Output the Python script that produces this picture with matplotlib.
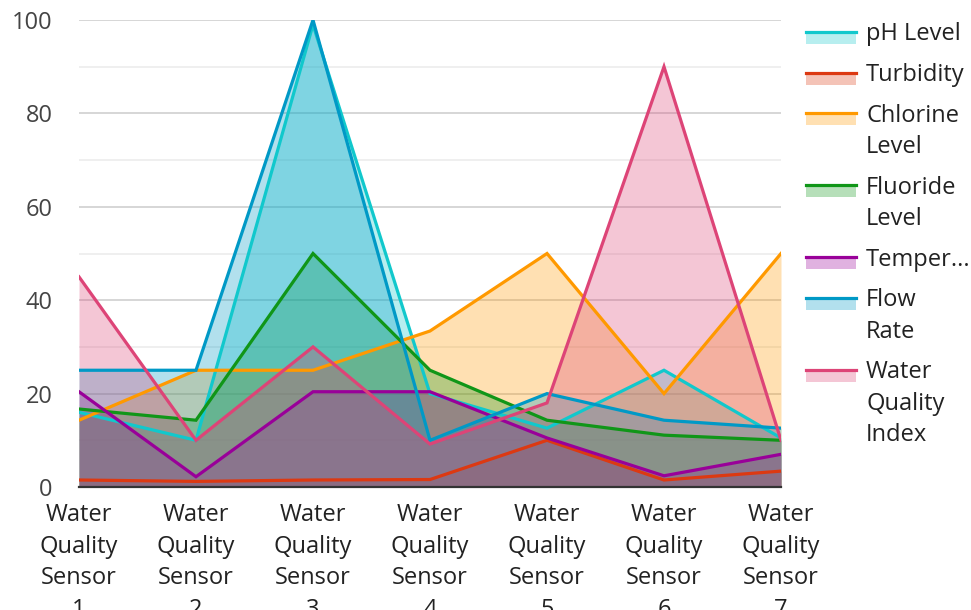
import numpy as np
import matplotlib
matplotlib.use("Agg")
import matplotlib.pyplot as plt
from matplotlib.patches import Rectangle
from matplotlib.lines import Line2D

plt.rcParams['font.family'] = ['Open Sans', 'DejaVu Sans']

sensors = [f"Water\nQuality\nSensor\n{i}" for i in range(1, 8)]

ph_level    = [16, 10, 99, 20, 12.6, 25, 10.5]
turbidity   = [1.5, 1.2, 1.5, 1.6, 10, 1.5, 3.4]
chlorine    = [14.3, 25, 25, 33.4, 50, 20, 50]
fluoride    = [16.7, 14.3, 50, 25, 14.3, 11.1, 10]
temperature = [20.4, 2.2, 20.4, 20.4, 10.5, 2.4, 7]
flow_rate   = [25, 25, 100, 10, 20, 14.3, 12.6]
wqi         = [45, 10, 30, 9.2, 18, 90, 10]

series = [
    ("pH Level",            ph_level,    "#11C8CC"),
    ("Turbidity",           turbidity,   "#DC3912"),
    ("Chlorine\nLevel",     chlorine,    "#FF9900"),
    ("Fluoride\nLevel",     fluoride,    "#109618"),
    ("Temper...",           temperature, "#990099"),
    ("Flow\nRate",          flow_rate,   "#0099C6"),
    ("Water\nQuality\nIndex", wqi,       "#DD4477"),
]

W, H = 971, 610
fig = plt.figure(figsize=(W / 100, H / 100), dpi=100)
ax = fig.add_axes([79 / W, 1 - 487 / H, (781 - 79) / W, (487 - 20) / H])

x = np.arange(len(sensors))
for name, vals, col in series:
    ax.fill_between(x, 0, vals, color=col, alpha=0.3, linewidth=0)
    ax.plot(x, vals, color=col, lw=2.3, solid_joinstyle="miter")

ax.set_xlim(0, len(sensors) - 1)
ax.set_ylim(0, 100)
ax.set_yticks(range(0, 101, 20))
ax.set_yticks(range(10, 100, 20), minor=True)
ax.grid(axis="y", which="major", color="#cccccc", lw=1.1)
ax.grid(axis="y", which="minor", color="#ebebeb", lw=1.1)
ax.set_axisbelow(True)
for s in ("top", "right", "left"):
    ax.spines[s].set_visible(False)
ax.spines["bottom"].set_color("#333333")
ax.spines["bottom"].set_linewidth(1.6)
ax.spines["bottom"].set_zorder(5)

ax.set_xticks(x)
ax.set_xticklabels(sensors, linespacing=1.43)
ax.tick_params(axis="x", length=0, pad=11.5, labelsize=17, labelcolor="#222222")
ax.tick_params(axis="y", which="both", length=0, pad=19, labelsize=17,
               labelcolor="#444444")

# legend drawn in figure pixel space
lg = fig.add_axes([0, 0, 1, 1], facecolor="none")
lg.set_xlim(0, W)
lg.set_ylim(H, 0)
lg.axis("off")
y0 = 32
for name, vals, col in series:
    lg.add_patch(Rectangle((806, y0 + 1.5), 50, 10.5, color=col, alpha=0.3, lw=0))
    lg.add_line(Line2D([806, 856], [y0, y0], color=col, lw=2.3))
    lines = name.split("\n")
    for i, ln in enumerate(lines):
        lg.text(866, y0 + 8.5 + i * 31.5, ln, fontsize=17, color="#222222",
                va="baseline", ha="left")
    y0 += 31.5 * (len(lines) - 1) + 40.5

fig.savefig("out.png", dpi=100)
